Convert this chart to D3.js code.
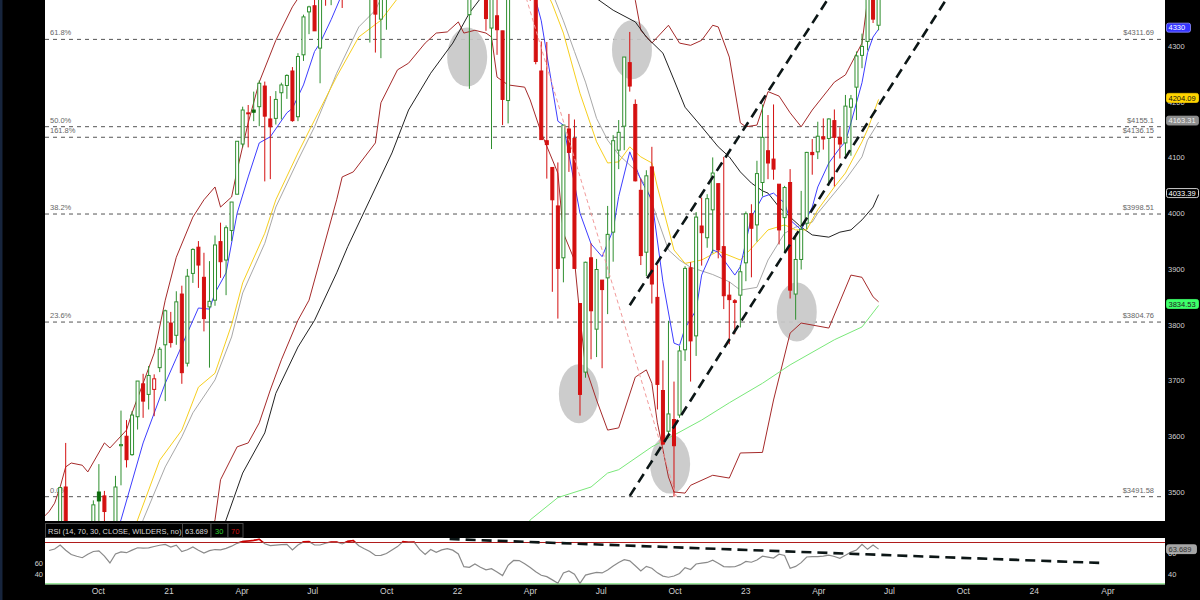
<!DOCTYPE html>
<html><head><meta charset="utf-8">
<script src="https://cdn.jsdelivr.net/npm/d3@7"></script>
<style>
html,body{margin:0;padding:0;background:#000;}
svg{display:block;font-family:"Liberation Sans",Arial,sans-serif;}
</style></head><body>
<svg id="c" width="1200" height="600"></svg>
<script>
// ---------- DATA ----------
// weekly S&P 500 candles; week index 0 = week of 2020-08-31, candles start at index -4
const baseWeek = "2020-08-31";
const candleStart = -4;
const opens = [3289,3356,3380,3419,
3509,3370,3364,3285,3334,3367,3500,3493,3441,3296,
3583,3600,3567,3635,3694,3675,3684,3723,3764,3803,
3781,3855,3731,3892,3939,3885,3832,3844,3949,3916,
3969,4034,4124,4179,4185,4191,4228,4169,4170,4216,
4229,4255,4173,4284,4361,4372,4296,4409,4407,4438,
4462,4450,4514,4535,4474,4402,4442,4348,4385,4463,
4553,4610,4707,4689,4712,4628,4548,4710,4588,4733,
4779,4655,4632,4356,4432,4506,4412,4332,4354,4327,
4202,4462,4541,4547,4462,4385,4255,4130,4082,4013,
3920,4151,4134,3838,3715,3920,3792,3880,3884,3966,
4113,4156,4270,4195,4041,3930,4083,3849,3682,3609,
3630,3638,3755,3902,3780,3977,3956,4006,4053,3940,
3853,3843,3853,3911,3999,3979,4055,4112,4097,4052,
3992,4055,3855,3917,3982,4109,4110,4137,4134,4166,
4136,4126,4190,4226,4283,4308,4396,4337];
const highs = [3352,3387,3399,3509,
3588,3425,3428,3320,3393,3485,3550,3502,3441,3529,
3646,3629,3645,3699,3712,3726,3711,3760,3827,3823,
3860,3870,3900,3937,3950,3929,3914,3960,3983,3978,
4020,4129,4191,4194,4218,4238,4236,4210,4219,4234,
4249,4262,4287,4356,4372,4393,4415,4429,4440,4469,
4480,4513,4546,4536,4492,4465,4465,4429,4475,4560,
4608,4718,4714,4718,4744,4672,4713,4732,4740,4808,
4819,4749,4632,4453,4596,4590,4490,4386,4416,4327,
4466,4546,4637,4594,4471,4513,4308,4307,4082,4091,
4158,4178,4168,3838,3913,3946,3918,3880,4013,4140,
4167,4280,4325,4204,4062,4077,4119,3907,3736,3807,
3698,3762,3905,3912,4002,4028,4034,4100,4053,4101,
3877,3846,3907,4003,4016,4094,4195,4176,4195,4052,
4049,4079,3964,4040,4110,4133,4164,4170,4170,4186,
4154,4212,4212,4290,4322,4448,4407,4458];
const lows = [3284,3329,3355,3403,
3405,3310,3322,3209,3324,3354,3441,3419,3233,3280,
3512,3544,3565,3612,3633,3648,3636,3715,3663,3759,
3764,3694,3725,3875,3866,3788,3723,3834,3884,3853,
3950,4034,4118,4118,4165,4156,4057,4061,4159,4168,
4205,4164,4165,4273,4321,4327,4233,4372,4373,4422,
4368,4442,4513,4457,4427,4306,4288,4278,4329,4447,
4537,4595,4630,4672,4585,4495,4532,4600,4531,4733,
4662,4582,4395,4223,4405,4402,4327,4115,4284,4158,
4161,4424,4502,4451,4381,4267,4169,4062,3859,3811,
3876,4074,3900,3637,3705,3738,3742,3722,3819,3913,
4079,4113,4218,4057,3907,3887,3838,3648,3584,3603,
3491.58,3633,3735,3698,3744,3906,3938,3928,3919,3828,
3765,3783,3795,3878,3885,3949,4030,4061,4060,3944,
3928,3847,3809,3899,3971,4069,4097,4114,4049,4048,
4098,4103,4103,4167,4260,4292,4341,4328];
const closes = [3351,3373,3397,3508,
3427,3341,3319,3298,3348,3477,3484,3465,3270,3509,
3585,3558,3638,3699,3663,3709,3703,3756,3825,3768,
3841,3714,3887,3935,3907,3811,3842,3943,3913,3974,
4020,4129,4185,4180,4181,4233,4174,4155,4204,4230,
4247,4166,4281,4352,4370,4327,4412,4395,4437,4468,
4441,4509,4535,4459,4433,4455,4357,4391,4471,4545,
4605,4698,4682,4698,4595,4538,4712,4620,4726,4766,
4677,4663,4398,4432,4501,4419,4349,4385,4329,4204,
4463,4543,4546,4488,4392,4272,4132,4123,4024,3901,
4158,4109,3901,3675,3912,3825,3899,3863,3962,4130,
4145,4280,4228,4058,3924,4067,3873,3693,3586,3640,
3583,3753,3901,3771,3993,3965,4026,4072,3934,3852,
3845,3840,3895,3999,3973,4071,4136,4090,4079,3970,
4046,3862,3917,3971,4109,4105,4138,4133,4169,4136,
4124,4192,4205,4282,4299,4410,4348,4450];

// study lines: [week index, value]
const blueLine = [[8,3400],[10,3450],[14,3588],[18,3695],[20,3740],[24,3830],[26,3828],[27,3857],[29,3893],[31,4000],[33,4065],[35,4126],[37,4137],[40,4180],[41,4188],[43,4230],[45,4290],[46,4305],[48,4347],[52,4440],[60,4480],[66,4640],[72,4640],[78,4420],[84,4420],[86,4345],[89,4165],[90,4158],[93,4000],[95,3945],[97,3922],[99,3970],[100,4030],[102,4110],[104,4060],[106,4024],[108,3877],[110,3767],[111,3763],[112,3794],[114,3826],[115,3889],[117,3934],[118,3930],[121,3889],[122,3904],[124,3993],[126,4029],[128,4036],[130,4018],[131,3988],[133,3970],[135,4011],[136,4047],[138,4090],[140,4117],[141,4128],[142,4162],[144,4234],[145,4288],[146,4316],[147,4330]];
const yellowLine = [[12,3420],[13,3450],[17,3557],[21,3611],[24,3688],[27,3713],[30,3800],[32,3875],[36,3964],[38,4024],[42,4108],[45,4167],[49,4245],[53,4316],[57,4346],[60,4385],[66,4480],[76,4560],[84,4460],[88,4375],[90,4323],[93,4215],[96,4128],[98,4090],[100,4092],[102,4119],[104,4101],[106,4090],[107,4047],[110,3934],[112,3910],[115,3916],[118,3932],[122,3916],[124,3937],[127,3970],[130,3979],[132,3970],[134,3970],[136,4006],[139,4047],[141,4072],[144,4128],[145,4150],[147,4204.09]];
const greyLine = [[13,3420],[14,3450],[18,3545],[21,3599],[23,3642],[27,3701],[30,3778],[32,3857],[36,3946],[38,4011],[42,4095],[45,4155],[49,4251],[53,4334],[56,4364],[57,4385],[64,4500],[74,4580],[84,4480],[88,4395],[90,4345],[92,4290],[94,4235],[96,4170],[98,4131],[100,4105],[103,4077],[105,4047],[109,3934],[111,3916],[113,3903],[117,3890],[120,3877],[122,3862],[125,3867],[127,3916],[130,3964],[132,3975],[135,3984],[136,4000],[139,4036],[141,4060],[144,4101],[145,4131],[147,4163.31]];
const blackLine = [[28,3420],[29,3450],[32,3534],[36,3606],[38,3677],[42,3760],[45,3808],[49,3893],[51,3940],[55,4024],[59,4108],[62,4185],[66,4251],[70,4305],[73,4359],[75,4385],[80,4420],[88,4430],[96,4385],[99,4364],[103,4343],[105,4316],[108,4287],[110,4239],[112,4190],[115,4155],[117,4131],[118,4119],[120,4101],[122,4074],[124,4054],[126,4040],[127,4036],[129,4011],[133,3975],[135,3961],[138,3957],[140,3966],[142,3970],[144,3988],[146,4011],[147,4033.39]];
const greenLine = [[83,3430],[84,3450],[89,3490],[95,3509],[98,3534],[100,3540],[106,3581],[110,3602],[115,3629],[120,3660],[126,3695],[131,3728],[139,3773],[144,3796],[147,3834.53]];
const bandUpper = [[-4,3455],[-3,3465],[-2,3480],[-1,3509],[0,3545],[1,3552],[3,3548],[4,3536],[7,3588],[8,3579],[11,3611],[12,3642],[14,3695],[16,3749],[18,3844],[20,3921],[23,3993],[25,4024],[27,4047],[28,4011],[30,4029],[31,4077],[33,4162],[35,4235],[38,4310],[41,4370],[42,4385],[44,4430],[70,4900],[100,4450],[103,4382],[104,4328],[106,4305],[109,4337],[111,4305],[113,4301],[115,4310],[117,4337],[118,4334],[120,4280],[122,4162],[123,4155],[125,4158],[127,4218],[129,4210],[131,4180],[133,4155],[135,4185],[139,4235],[141,4248],[144,4305],[145,4382],[147,4460]];
const bandLower = [[26,3420],[27,3450],[28,3522],[31,3581],[33,3588],[35,3624],[37,3683],[39,3737],[42,3808],[44,3844],[46,3916],[49,4024],[50,4065],[52,4074],[56,4126],[57,4198],[60,4257],[62,4269],[65,4305],[67,4323],[69,4325],[71,4343],[72,4323],[74,4328],[76,4323],[77,4316],[78,4244],[80,4230],[83,4226],[84,4203],[86,4144],[89,4072],[90,3964],[92,3916],[93,3814],[94,3724],[96,3665],[98,3611],[100,3615],[103,3706],[105,3719],[106,3695],[107,3624],[109,3527],[110,3500],[112,3498],[113,3512],[117,3530],[120,3525],[122,3570],[126,3571],[128,3665],[131,3785],[133,3803],[138,3794],[142,3889],[144,3885],[146,3850],[147,3841]];

// drawings: [date, value]
const trendDown = [["2022-01-04",4818.62],["2022-10-13",3491.58]];
const channelUpper = [["2022-08-15",3835],["2023-04-22",4382]];
const channelLower = [["2022-08-15",3493],["2023-09-19",4382]];
const rsiTrend = [["2021-12-30",73.3],["2024-04-03",50.5]];
// highlighted zones: [week index, price]
const zones = [[72.6,4280],[102.4,4293],[92.8,3676],[109.3,3550],[132.2,3823]];

// fibonacci levels
const fibNames = ["61.8%","50.0%","161.8%","38.2%","23.6%","0.0%"];
const fibValues = [4311.69,4155.1,4136.15,3998.51,3804.76,3491.58];
const fibPriceLabels = ["$4311.69","$4155.1","$4136.15","$3998.51","$3804.76","$3491.58"];

// RSI weekly, first value is week index -3
const rsiStart = -3;
const rsiValues = [62.4,63.8,67.6,
62.6,58.6,56.9,55.5,58.9,61.4,62.1,57.1,50.5,59,
61,60.3,62.7,65,64.7,64.9,66.2,67.4,68.2,65.6,
67.4,61.3,63.1,65.8,62.7,60,62.2,63.3,63,64.4,
66.5,69.2,71,71.5,72,73.1,68.8,67,67.5,68,
68.2,63,67.6,70.6,70.8,67.6,67.6,69.3,70.5,70.5,
68.6,71.1,71.9,66.9,64,61.5,57.6,57.7,59.5,62.8,
66.1,70.8,70.3,70.4,63.4,58.7,63.3,60.6,63,64.2,
62.7,59.1,47,46.3,49.5,46.4,44,45.1,41.9,38.5,
48.3,52.9,52.8,49.8,46.2,42.1,38.8,37.5,34.4,31.2,
41,42.9,39.8,31.1,39,40.4,41.6,41,43.8,47.6,
51,53.6,52.5,47.8,42.9,47.3,45.5,41.1,38,36.9,
38.1,40.5,46,44.3,49.5,50.3,51,53.2,50.3,47.1,
46.7,46.9,48.9,52,51.2,53.3,56.9,56,55.2,58.8,
57.6,45.4,47.2,50.8,56.2,56.5,56.5,57,57.9,56.7,
55,57.8,60.8,62.9,68.3,63.5,67.6,63.689];

// axes
const priceTicks = [3500,3600,3700,3800,3900,4000,4100,4200,4300];
const xTickDates = ["2020-10-01","2021-01-01","2021-04-01","2021-07-01","2021-10-01","2022-01-01","2022-04-01","2022-07-01","2022-10-01","2023-01-01","2023-04-01","2023-07-01","2023-10-01","2024-01-01","2024-04-01"];
const xTickLabels = ["Oct","21","Apr","Jul","Oct","22","Apr","Jul","Oct","23","Apr","Jul","Oct","24","Apr"];
const tagTexts = ["4330","4204.09","4163.31","4033.39","3834.53"];

// ---------- CHART ----------
const parse = d3.timeParse("%Y-%m-%d");
const base = parse(baseWeek);
const wk = i => d3.timeHour.offset(base, Math.round(i * 7 * 24));
const svg = d3.select("#c");
const W = 1200, H = 600;
const P = {l:45, r:1165, t:0, b:521};
const R = {t:538, b:584.5};
const FONT = "Liberation Sans, Arial, sans-serif";

const x = d3.scaleTime().domain([base, parse("2024-04-01")]).range([65.7, 1099.8]);
const y = d3.scaleLinear().domain([3449.8, 4382.3]).range([520, 0]);
const ry = d3.scaleLinear().domain([30, 70]).range([584.5, 542.5]);

svg.append("rect").attr("width", W).attr("height", H).attr("fill", "#000");
svg.append("rect").attr("x", 0).attr("width", 2.5).attr("height", H).attr("fill", "#17253d");
svg.append("rect").attr("x", P.l).attr("y", P.t).attr("width", P.r - P.l).attr("height", P.b - P.t).attr("fill", "#fff");
svg.append("rect").attr("x", P.l).attr("y", R.t).attr("width", P.r - P.l).attr("height", R.b - R.t).attr("fill", "#fff");

const defs = svg.append("defs");
defs.append("clipPath").attr("id", "mclip").append("rect").attr("x", P.l).attr("y", P.t).attr("width", P.r - P.l).attr("height", P.b - P.t);
defs.append("clipPath").attr("id", "rclip").append("rect").attr("x", P.l).attr("y", R.t).attr("width", P.r - P.l).attr("height", R.b - R.t);
defs.append("clipPath").attr("id", "hot").append("rect").attr("x", P.l).attr("y", R.t).attr("width", P.r - P.l).attr("height", ry(70) - R.t);

const g = svg.append("g").attr("clip-path", "url(#mclip)");

// fib lines
fibValues.forEach((v, i) => {
  g.append("line").attr("x1", P.l).attr("x2", P.r).attr("y1", y(v)).attr("y2", y(v))
    .attr("stroke", "#555").attr("stroke-width", 1).attr("stroke-dasharray", "4,4");
  g.append("text").attr("x", 50).attr("y", y(v) - 4).text(fibNames[i])
    .attr("fill", "#666").attr("font-size", 7.5).attr("font-family", FONT);
  g.append("text").attr("x", 1154).attr("y", y(v) - 4).attr("text-anchor", "end").text(fibPriceLabels[i])
    .attr("fill", "#666").attr("font-size", 7.5).attr("font-family", FONT);
});

// zones
g.selectAll("ellipse.z").data(zones).enter().append("ellipse")
  .attr("cx", d => x(wk(d[0]))).attr("cy", d => y(d[1])).attr("rx", 20).attr("ry", 29.5)
  .attr("fill", "#c8c8c8").attr("opacity", 0.92);

const line = d3.line().x(d => x(wk(d[0]))).y(d => y(d[1]));
const studies = [
  [bandUpper, "#a52a2a", 1], [bandLower, "#a52a2a", 1],
  [greenLine, "#7ae87a", 1], [blackLine, "#222", 1],
  [greyLine, "#a8a8a8", 1], [yellowLine, "#f7cf1e", 1], [blueLine, "#3d3dff", 1]
];
studies.forEach(s => {
  g.append("path").attr("d", line(s[0])).attr("fill", "none").attr("stroke", s[1]).attr("stroke-width", s[2]);
});

// candles
const candles = opens.map((o, k) => ({
  date: wk(k + candleStart), o, h: highs[k], l: lows[k], c: closes[k],
  prev: k > 0 ? closes[k - 1] : o - 1
}));
const GREEN = "#2f8f2f", DKGREEN = "#0b6b0b", RED = "#d41010";
const cg = g.append("g");
candles.forEach(d => {
  const up = d.c >= d.prev, hollow = d.c >= d.o;
  const col = up ? GREEN : RED;
  const cx = x(d.date);
  cg.append("line").attr("x1", cx).attr("x2", cx).attr("y1", y(d.h)).attr("y2", y(d.l))
    .attr("stroke", col).attr("stroke-width", 1);
  const top = y(Math.max(d.o, d.c)), bot = y(Math.min(d.o, d.c));
  cg.append("rect").attr("x", cx - 1.5).attr("width", 3).attr("y", top).attr("height", Math.max(1, bot - top))
    .attr("fill", hollow ? "#fff" : (up ? DKGREEN : RED))
    .attr("stroke", hollow ? col : (up ? DKGREEN : RED)).attr("stroke-width", 1);
});

// drawings
const dline = d3.line().x(d => x(parse(d[0]))).y(d => y(d[1]));
g.append("path").attr("d", dline(trendDown)).attr("fill", "none").attr("stroke", "#f29a9a")
  .attr("stroke-width", 1).attr("stroke-dasharray", "4,3");
[channelUpper, channelLower].forEach(c => {
  g.append("path").attr("d", dline(c)).attr("fill", "none").attr("stroke", "#0c1616")
    .attr("stroke-width", 2.6).attr("stroke-dasharray", "10,6");
});

// right price axis
const ya = svg.append("g").attr("transform", `translate(${P.r},0)`)
  .call(d3.axisRight(y).tickValues(priceTicks).tickSize(0).tickPadding(3).tickFormat(d3.format("d")));
ya.select(".domain").remove();
ya.selectAll("text").attr("fill", "#cfcfcf").attr("font-size", 7.5).attr("font-family", FONT);

// tags
const tagStyles = [
  {src: blueLine, fill: "#3434ff", stroke: "#9090ff", color: "#fff", w: 24},
  {src: yellowLine, fill: "#ffd400", stroke: "#ffd400", color: "#111", w: 32},
  {src: greyLine, fill: "#8e8e8e", stroke: "#8e8e8e", color: "#ececec", w: 32},
  {src: blackLine, fill: "#000", stroke: "#fff", color: "#fff", w: 32},
  {src: greenLine, fill: "#3dff6a", stroke: "#3dff6a", color: "#222", w: 32}
];
tagStyles.forEach((t, i) => {
  const v = t.src[t.src.length - 1][1];
  const cy = y(v) - 1.5;
  svg.append("rect").attr("x", 1166.5).attr("y", cy - 4.5).attr("width", t.w).attr("height", 9).attr("rx", 2)
    .attr("fill", t.fill).attr("stroke", t.stroke).attr("stroke-width", 0.8);
  svg.append("text").attr("x", 1168.5).attr("y", cy).attr("dy", "0.35em").text(tagTexts[i])
    .attr("fill", t.color).attr("font-size", 7.5).attr("font-family", FONT);
});

// RSI header
svg.append("rect").attr("x", 45.5).attr("y", 523.5).attr("width", 137).attr("height", 14).attr("fill", "#000").attr("stroke", "#4a4a4a");
svg.append("text").attr("x", 48).attr("y", 533.5).text("RSI (14, 70, 30, CLOSE, WILDERS, no)")
  .attr("fill", "#d8d8d8").attr("font-size", 7.5).attr("font-family", FONT);
svg.append("rect").attr("x", 182.5).attr("y", 523.5).attr("width", 28.5).attr("height", 14).attr("fill", "#000").attr("stroke", "#4a4a4a");
svg.append("text").attr("x", 185).attr("y", 533.5).text(String(rsiValues[rsiValues.length - 1]))
  .attr("fill", "#d8d8d8").attr("font-size", 7.5).attr("font-family", FONT);
svg.append("rect").attr("x", 211).attr("y", 523.5).attr("width", 17).attr("height", 14).attr("fill", "#000").attr("stroke", "#4a4a4a");
svg.append("text").attr("x", 215).attr("y", 533.5).text("30").attr("fill", "#2fcf2f").attr("font-size", 7.5).attr("font-family", FONT);
svg.append("rect").attr("x", 228).attr("y", 523.5).attr("width", 15).attr("height", 14).attr("fill", "#000").attr("stroke", "#4a4a4a");
svg.append("text").attr("x", 231).attr("y", 533.5).text("70").attr("fill", "#cc1010").attr("font-size", 7.5).attr("font-family", FONT);

// RSI panel
const rg = svg.append("g").attr("clip-path", "url(#rclip)");
rg.append("line").attr("x1", P.l).attr("x2", P.r).attr("y1", ry(70)).attr("y2", ry(70)).attr("stroke", "#b01c1c").attr("stroke-width", 1);
rg.append("line").attr("x1", P.l).attr("x2", P.r).attr("y1", ry(30) - 0.5).attr("y2", ry(30) - 0.5).attr("stroke", "#3ccf3c").attr("stroke-width", 1.2);
const rsiPts = rsiValues.map((v, k) => [wk(k + rsiStart), v]);
const rl = d3.line().x(d => x(d[0])).y(d => ry(d[1]));
rg.append("path").attr("d", rl(rsiPts)).attr("fill", "none").attr("stroke", "#8a8a8a").attr("stroke-width", 1.2);
rg.append("g").attr("clip-path", "url(#hot)").append("path").attr("d", rl(rsiPts))
  .attr("fill", "none").attr("stroke", "#d00000").attr("stroke-width", 1.6);
const rdl = d3.line().x(d => x(parse(d[0]))).y(d => ry(d[1]));
rg.append("path").attr("d", rdl(rsiTrend)).attr("fill", "none").attr("stroke", "#0c1616")
  .attr("stroke-width", 2.6).attr("stroke-dasharray", "10,6");

// RSI axes
const ra = svg.append("g").attr("transform", `translate(${P.r},0)`)
  .call(d3.axisRight(ry).tickValues([40, 60]).tickSize(0).tickPadding(3));
ra.select(".domain").remove();
ra.selectAll("text").attr("fill", "#cfcfcf").attr("font-size", 7.5).attr("font-family", FONT);
const ly = d3.scaleLinear().domain([40, 60]).range([574, 563]);
const la = svg.append("g").attr("transform", `translate(${P.l - 2},0)`)
  .call(d3.axisLeft(ly).tickValues([40, 60]).tickSize(0).tickPadding(0));
la.select(".domain").remove();
la.selectAll("text").attr("fill", "#cfcfcf").attr("font-size", 7.5).attr("font-family", FONT);
const lastRsi = rsiValues[rsiValues.length - 1];
svg.append("rect").attr("x", 1166.5).attr("y", ry(lastRsi) - 4.5).attr("width", 30).attr("height", 9).attr("rx", 2)
  .attr("fill", "#a5a5a5").attr("stroke", "#cfcfcf").attr("stroke-width", 0.6);
svg.append("text").attr("x", 1168.5).attr("y", ry(lastRsi)).attr("dy", "0.35em").text(String(lastRsi))
  .attr("fill", "#333").attr("font-size", 7.5).attr("font-family", FONT);

// time axis
const xa = svg.append("g").attr("transform", "translate(0,586)")
  .call(d3.axisBottom(x).tickValues(xTickDates.map(parse)).tickSize(0).tickPadding(2)
    .tickFormat((d, i) => xTickLabels[i]));
xa.select(".domain").remove();
xa.selectAll("text").attr("fill", "#cfcfcf").attr("font-size", 8.5).attr("font-family", FONT)
  .attr("text-anchor", "start").attr("dx", 1);
</script>
</body></html>
